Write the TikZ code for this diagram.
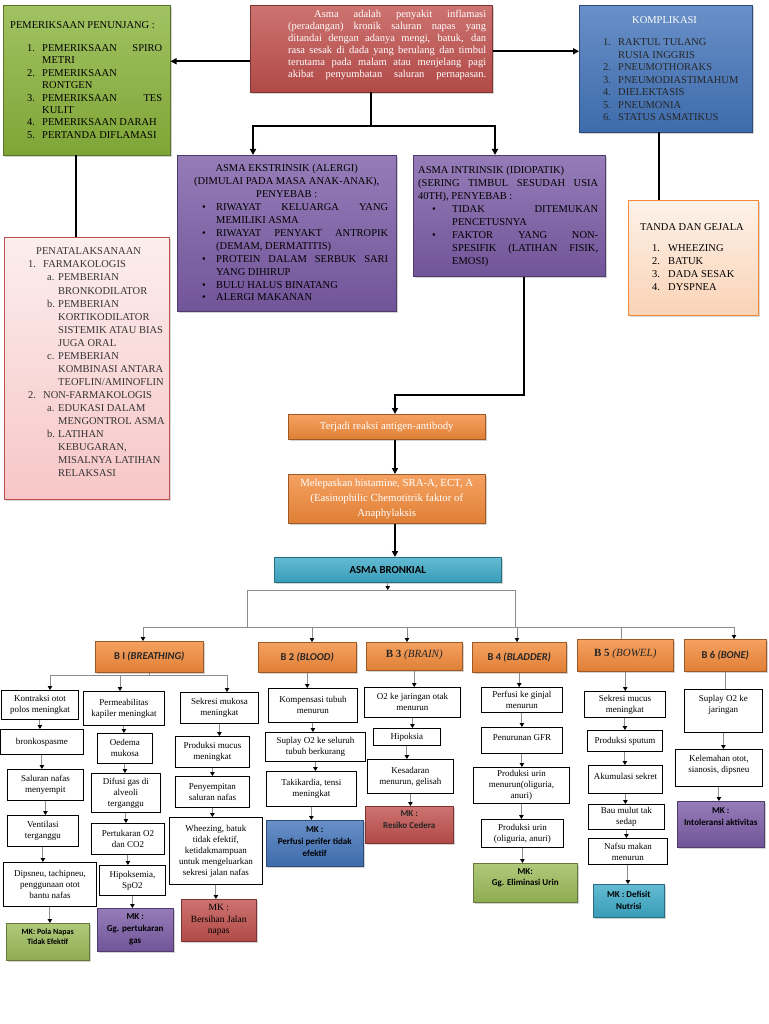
\documentclass[tikz,border=0pt]{standalone}
\usepackage{fontspec}
\setmainfont{Liberation Serif}
\newfontfamily\calib{Carlito}
\usetikzlibrary{arrows.meta,shadows}

\definecolor{cgreen}{HTML}{8AB33B}
\definecolor{cred}{HTML}{C0504D}
\definecolor{cblue}{HTML}{4374BA}
\definecolor{cpurple}{HTML}{7B5CA6}
\definecolor{corange}{HTML}{F38A3A}
\definecolor{cteal}{HTML}{3DAAC8}
\definecolor{cpink}{HTML}{F7C6C6}
\definecolor{cpeach}{HTML}{FAD3B6}
\definecolor{mkgreen}{HTML}{9BBB59}

% zero-width strut that pushes the text of a box upwards
\newcommand\dpad[1]{\rule[-#1]{0pt}{#1}}

\begin{document}
\begin{tikzpicture}[x=1pt, y=-1pt,
    wh/.style 2 args={minimum width=#1pt, minimum height=#2pt},
    tint/.style={anchor=north west, inner sep=1pt, align=center, draw=#1!65!black, line width=0.5pt,
        top color=#1!80!white, bottom color=#1!92!black,
        drop shadow={opacity=0.35, shadow xshift=1.5pt, shadow yshift=-1.5pt}},
    soft/.style 2 args={anchor=north west, draw=#2, line width=0.6pt,
        top color=#1!30!white, bottom color=#1,
        drop shadow={opacity=0.3, shadow xshift=1.5pt, shadow yshift=-1.5pt}},
    wbox/.style={anchor=north west, draw=black, line width=0.8pt, fill=white, inner sep=1pt, align=center,
        font=\fontsize{9}{11}\selectfont},
    txt/.style={anchor=north west, inner sep=0pt},
    mk/.style={font=\calib\bfseries\fontsize{9}{12}\selectfont},
    blab/.style={font=\calib\bfseries\fontsize{10.5}{12}\selectfont, text=black!85},
    slab/.style={font=\bfseries\fontsize{11}{13}\selectfont, text=black!85},
    bigln/.style={draw=black, line width=1.8pt},
    bigarr/.style={bigln, -{Triangle[length=6pt, width=6pt]}},
    bigarrs/.style={bigln, {Triangle[length=6pt, width=6pt]}-{Triangle[length=6pt, width=6pt]}},
    ln/.style={draw=black!45, line width=0.9pt},
    arr/.style={ln, -{Triangle[length=4pt, width=4.5pt, color=black]}},
]
\fill[white] (0,0) rectangle (768,1024);
\useasboundingbox (0,0) rectangle (768,1024);

% ---------- top row ----------
\node[tint=cgreen, wh={167}{150}] (penunjang) at (3,5) {};
\node[txt, font=\fontsize{10.5}{12.4}\selectfont] (penunjang-txt) at (10,19.7) {%
\begin{tabular}{@{}p{17pt}@{}p{15pt}@{}p{120pt}@{}}
\multicolumn{3}{@{}l@{}}{PEMERIKSAAN PENUNJANG :}\\[10.5pt]
 & 1. & PEMERIKSAAN\hfill SPIRO\\
 & & METRI\\
 & 2. & PEMERIKSAAN\\
 & & RONTGEN\\
 & 3. & PEMERIKSAAN\hfill TES\\
 & & KULIT\\
 & 4. & PEMERIKSAAN DARAH\\
 & 5. & PERTANDA DIFLAMASI
\end{tabular}};

\node[tint=cred, wh={242}{87}] (def) at (250,5) {};
\node[txt, text=white, font=\fontsize{10.5}{12}\selectfont] (def-txt) at (288,10) {%
\parbox[t]{198pt}{\parfillskip=0pt\hspace*{26pt}Asma adalah penyakit inflamasi\linebreak
(peradangan) kronik saluran napas yang\linebreak
ditandai dengan adanya mengi, batuk, dan\linebreak
rasa sesak di dada yang berulang dan timbul\linebreak
terutama pada malam atau menjelang pagi\linebreak
akibat penyumbatan saluran pernapasan.}};

\node[tint=cblue, wh={173}{127}] (komplikasi) at (579,5) {};
\node[txt, text=black!85, font=\fontsize{10.5}{12.5}\selectfont] (komplikasi-txt) at (603,14.7) {%
\begin{tabular}{@{}p{15pt}@{}l@{}}
\multicolumn{2}{@{\hspace{29pt}}l@{}}{\textcolor{white}{KOMPLIKASI}}\\[9.5pt]
1. & RAKTUL TULANG\\
 & RUSIA INGGRIS\\
2. & PNEUMOTHORAKS\\
3. & PNEUMODIASTIMAHUM\\
4. & DIELEKTASIS\\
5. & PNEUMONIA\\
6. & STATUS ASMATIKUS
\end{tabular}};

% ---------- allergy types ----------
\node[tint=cpurple, wh={219}{156}] (ekstrinsik) at (177,155) {};
\node[txt, font=\fontsize{10.5}{12.9}\selectfont] (ekstrinsik-txt) at (185,162.7) {%
\begin{tabular}{@{}p{17pt}@{}p{14pt}@{}p{172pt}@{}}
\multicolumn{3}{@{}c@{}}{ASMA EKSTRINSIK (ALERGI)}\\
\multicolumn{3}{@{}c@{}}{(DIMULAI PADA MASA ANAK-ANAK),}\\
\multicolumn{3}{@{}c@{}}{PENYEBAB :}\\
 & \textbullet & RIWAYAT\hfill KELUARGA\hfill YANG\\
 & & MEMILIKI ASMA\\
 & \textbullet & RIWAYAT\hfill PENYAKT\hfill ANTROPIK\\
 & & (DEMAM, DERMATITIS)\\
 & \textbullet & PROTEIN\hfill DALAM\hfill SERBUK\hfill SARI\\
 & & YANG DIHIRUP\\
 & \textbullet & BULU HALUS BINATANG\\
 & \textbullet & ALERGI MAKANAN
\end{tabular}};

\node[tint=cpurple, wh={192}{121}] (intrinsik) at (413,155) {};
\node[txt, font=\fontsize{10.5}{12.9}\selectfont] (intrinsik-txt) at (418,164.7) {%
\begin{tabular}{@{}p{14pt}@{}p{20pt}@{}p{146pt}@{}}
\multicolumn{3}{@{}l@{}}{ASMA INTRINSIK (IDIOPATIK)}\\
\multicolumn{3}{@{}p{180pt}@{}}{(SERING\hfill TIMBUL\hfill SESUDAH\hfill USIA}\\
\multicolumn{3}{@{}l@{}}{40TH), PENYEBAB :}\\
 & \textbullet & TIDAK\hfill DITEMUKAN\\
 & & PENCETUSNYA\\
 & \textbullet & FAKTOR\hfill YANG\hfill NON-\\
 & & SPESIFIK\hfill (LATIHAN\hfill FISIK,\\
 & & EMOSI)
\end{tabular}};

% ---------- side boxes ----------
\node[soft={cpink}{cred}, wh={165}{262}] (penatalaksanaan) at (4,237) {};
\node[txt, text=black!80, font=\fontsize{10.5}{13.06}\selectfont] (penatalaksanaan-txt) at (28,245.5) {%
\begin{tabular}{@{}p{15pt}@{}p{15pt}@{}l@{}}
\multicolumn{3}{@{\hspace{8pt}}l@{}}{PENATALAKSANAAN}\\
1. & \multicolumn{2}{@{}l@{}}{FARMAKOLOGIS}\\
 & \hspace{4pt}a. & PEMBERIAN\\
 & & BRONKODILATOR\\
 & \hspace{4pt}b. & PEMBERIAN\\
 & & KORTIKODILATOR\\
 & & SISTEMIK ATAU BIAS\\
 & & JUGA ORAL\\
 & \hspace{4pt}c. & PEMBERIAN\\
 & & KOMBINASI ANTARA\\
 & & TEOFLIN/AMINOFLIN\\
2. & \multicolumn{2}{@{}l@{}}{NON-FARMAKOLOGIS}\\
 & \hspace{4pt}a. & EDUKASI DALAM\\
 & & MENGONTROL ASMA\\
 & \hspace{4pt}b. & LATIHAN\\
 & & KEBUGARAN,\\
 & & MISALNYA LATIHAN\\
 & & RELAKSASI
\end{tabular}};

\node[soft={cpeach}{corange}, wh={130}{115}] (tanda) at (628,200) {};
\node[txt, font=\fontsize{10.5}{13}\selectfont] (tanda-txt) at (640,220.7) {%
\begin{tabular}{@{}p{12pt}@{}p{16pt}@{}l@{}}
\multicolumn{3}{@{}l@{}}{TANDA DAN GEJALA}\\[8pt]
 & 1. & WHEEZING\\
 & 2. & BATUK\\
 & 3. & DADA SESAK\\
 & 4. & DYSPNEA
\end{tabular}};

% ---------- pathway ----------
\node[tint=corange, wh={197}{25}, text=white, font=\fontsize{10.7}{12}\selectfont] (antigen) at (288,414) {Terjadi reaksi antigen-antibody};
\node[tint=corange, wh={197}{49}, text=white, font=\fontsize{10.8}{15}\selectfont] (histamin) at (288,474)
    {Melepaskan histamine, SRA-A, ECT, A\\(Easinophilic Chemotitrik faktor of\\Anaphylaksis};
\node[tint=cteal, wh={227}{25}, font=\calib\bfseries\fontsize{10.8}{12}\selectfont] (bronkial) at (274,557) {ASMA BRONKIAL};

% ---------- B headers ----------
\node[tint=corange, wh={108}{31}, blab] (b1) at (95,641) {B I \textit{(BREATHING)}};
\node[tint=corange, wh={98}{30}, blab] (b2) at (258,642) {B 2 \textit{(BLOOD)}};
\node[tint=corange, wh={96}{28}, slab] (b3) at (366,642) {B 3 \textnormal{\itshape (BRAIN)}\dpad{5pt}};
\node[tint=corange, wh={94}{30}, blab] (b4) at (472,642) {B 4 \textit{(BLADDER)}};
\node[tint=corange, wh={96}{32}, slab] (b5) at (577,639) {B 5 \textnormal{\itshape (BOWEL)}\dpad{6pt}};
\node[tint=corange, wh={82}{32}, blab] (b6) at (684,639) {B 6 \textit{(BONE)}};

% ---------- B1 breathing ----------
\node[wbox, wh={77}{29}] (k1) at (1,690) {Kontraksi otot\\polos meningkat};
\node[wbox, wh={83}{25}] (k2) at (0,729) {bronkospasme};
\node[wbox, wh={76}{31}] (k3) at (7,769) {Saluran nafas\\menyempit};
\node[wbox, wh={71}{31}] (k4) at (7,815) {Ventilasi\\terganggu};
\node[wbox, wh={93}{44}] (k5) at (3,862) {Dipsneu, tachipneu,\\penggunaan otot\\bantu nafas};
\node[tint=mkgreen, wh={83}{37}, mk, font=\calib\bfseries\fontsize{8}{10}\selectfont] (mk1) at (6,923) {MK: Pola Napas\\Tidak Efektif\dpad{11pt}};

\node[wbox, wh={81}{34}] (p1) at (83,691) {Permeabilitas\\kapiler meningkat};
\node[wbox, wh={55}{30}] (p2) at (97,733) {Oedema\\mukosa};
\node[wbox, wh={69}{39}] (p3) at (91,773) {Difusi gas di\\alveoli\\terganggu};
\node[wbox, wh={73}{31}] (p4) at (91,823) {Pertukaran O2\\dan CO2};
\node[wbox, wh={66}{30}] (p5) at (99,865) {Hipoksemia,\\SpO2};
\node[tint=cpurple, wh={76}{43}, mk] (mk2) at (97,908) {MK :\\Gg. pertukaran\\gas};

\node[wbox, wh={78}{31}] (s1) at (180,692) {Sekresi mukosa\\meningkat};
\node[wbox, wh={74}{31}] (s2) at (175,736) {Produksi mucus\\meningkat};
\node[wbox, wh={74}{31}] (s3) at (175,776) {Penyempitan\\saluran nafas};
\node[wbox, wh={93}{67}] (s4) at (169,817) {Wheezing, batuk\\tidak efektif,\\ketidakmampuan\\untuk mengeluarkan\\sekresi jalan nafas};
\node[tint=cred, wh={75}{42}, font=\fontsize{9.5}{11.5}\selectfont] (mk3) at (181,899) {MK :\\Bersihan Jalan\\napas};

% ---------- B2 blood ----------
\node[wbox, wh={89}{34}] (b2a) at (268,688) {Kompensasi tubuh\\menurun};
\node[wbox, wh={100}{29}] (b2b) at (265,732) {Suplay O2 ke seluruh\\tubuh berkurang};
\node[wbox, wh={90}{35}] (b2c) at (266,771) {Takikardia, tensi\\meningkat};
\node[tint=cblue, wh={97}{46}, mk] (mk4) at (266,820) {MK :\\Perfusi perifer tidak\\efektif\dpad{4pt}};

% ---------- B3 brain ----------
\node[wbox, wh={96}{30}] (b3a) at (364,687) {O2 ke jaringan otak\\menurun};
\node[wbox, wh={67}{17}] (b3b) at (373,728) {Hipoksia};
\node[wbox, wh={86}{34}] (b3c) at (367,759) {Kesadaran\\menurun, gelisah};
\node[tint=cred, wh={88}{37}, mk, text=black!85] (mk5) at (365,806) {MK :\\Resiko Cedera\dpad{11pt}};

% ---------- B4 bladder ----------
\node[wbox, wh={81}{25}] (b4a) at (481,687) {Perfusi ke ginjal\\menurun};
\node[wbox, wh={81}{26}] (b4b) at (481,727) {Penurunan GFR\dpad{5pt}};
\node[wbox, wh={96}{36}] (b4c) at (473,767) {Produksi urin\\menurun(oliguria,\\anuri)};
\node[wbox, wh={82}{28}] (b4d) at (481,819) {Produksi urin\\(oliguria, anuri)};
\node[tint=mkgreen, wh={104}{39}, mk, font=\calib\bfseries\fontsize{9}{10.5}\selectfont] (mk6) at (473,863) {MK:\\Gg. Eliminasi Urin\dpad{11pt}};

% ---------- B5 bowel ----------
\node[wbox, wh={81}{26}] (b5a) at (584,691) {Sekresi mucus\\meningkat};
\node[wbox, wh={75}{21}] (b5b) at (587,730) {Produksi sputum};
\node[wbox, wh={74}{28}] (b5c) at (588,765) {Akumulasi sekret\dpad{7pt}};
\node[wbox, wh={76}{25}] (b5d) at (588,804) {Bau mulut tak\\sedap};
\node[wbox, wh={79}{26}] (b5e) at (588,838) {Nafsu makan\\menurun};
\node[tint=cteal, wh={71}{33}, mk] (mk7) at (593,884) {MK : Defisit\\Nutrisi};

% ---------- B6 bone ----------
\node[wbox, wh={78}{43}] (b6a) at (684,689) {Suplay O2 ke\\jaringan\dpad{14pt}};
\node[wbox, wh={87}{37}] (b6b) at (675,749) {Kelemahan otot,\\sianosis, dipsneu\dpad{9pt}};
\node[tint=cpurple, wh={87}{46}, mk] (mk8) at (677,801) {MK :\\Intoleransi aktivitas\dpad{15pt}};

% ---------- connectors, top ----------
\coordinate (def-l) at ([yshift=-12.5pt]def.west);
\coordinate (def-r) at ([yshift=-2.5pt]def.east);
\draw[bigarr] (def-l) -- (def-l -| penunjang.east);
\draw[bigarr] (def-r) -- (def-r -| komplikasi.west);

\coordinate (split-l) at (253,126);
\coordinate (split-r) at (495,126);
\draw[bigln] (def.south) -- (def.south |- split-l);
\draw[bigarrs] (split-l |- ekstrinsik.north) -- (split-l) -- (split-r) -- (split-r |- intrinsik.north);

\coordinate (pj-b) at ([xshift=-10.5pt]penunjang.south);
\draw[bigln] (pj-b) -- (pj-b |- penatalaksanaan.north);
\coordinate (kp-b) at ([xshift=-6.5pt]komplikasi.south);
\draw[bigln] (kp-b) -- (kp-b |- tanda.north);

\coordinate (in-b) at ([xshift=15pt]intrinsik.south);
\coordinate (mid) at (395,395);
\draw[bigarr] (in-b) |- (mid) -- (mid |- antigen.north);
\draw[bigarr] (mid |- antigen.south) -- (mid |- histamin.north);
\draw[bigarr] (mid |- histamin.south) -- (mid |- bronkial.north);

% ---------- connectors, B level ----------
\coordinate (bar1-l) at (247,590);
\coordinate (bar1-r) at (515,590);
\coordinate (bar2-l) at (143,627);
\coordinate (bar2-r) at (734,627);
\draw[arr] (bronkial.south) -- (bronkial.south |- bar1-l);
\draw[ln] (bar1-l |- bar2-l) -- (bar1-l) -- (bar1-r) -- (bar1-r |- bar2-l);
\draw[ln] (bar2-l) -- (bar2-r);
\foreach \n/\x in {b1/143, b2/312, b3/407, b4/517, b6/734} {
    \coordinate (drop-\n) at (\x,627);
    \draw[arr] (drop-\n) -- (drop-\n |- \n.north);
}
\coordinate (drop-b5) at (621,627);
\draw[ln] (drop-b5) -- (drop-b5 |- b5.north);

% B1 splits in three
\coordinate (bar3-l) at (50,675);
\coordinate (bar3-m) at (120,675);
\coordinate (bar3-r) at (227,675);
\draw[ln] (b1.south) -- (b1.south |- bar3-l);
\draw[ln] (bar3-l) -- (bar3-r);
\draw[arr] (bar3-l) -- (bar3-l |- k1.north);
\draw[arr] (bar3-m) -- (bar3-m |- p1.north);
\draw[arr] (bar3-r) -- (bar3-r |- s1.north);

% chains down each column
\foreach \a/\b in {k1/k2, k2/k3, k3/k4, k4/k5, k5/mk1, p1/p2, p2/p3, p3/p4, p4/p5, p5/mk2,
    s1/s2, s2/s3, s3/s4, s4/mk3, b2/b2a, b2a/b2b, b2b/b2c, b2c/mk4,
    b3/b3a, b3a/b3b, b3b/b3c, b3c/mk5, b4/b4a, b4a/b4b, b4b/b4c, b4c/b4d, b4d/mk6,
    b5/b5a, b5a/b5b, b5b/b5c, b5c/b5d, b5d/b5e, b5e/mk7, b6a/b6b, b6b/mk8}
    \draw[arr] (\a.south) -- (\a.south |- \b.north);
\draw[ln] (b6.south) -- (b6.south |- b6a.north);

\end{tikzpicture}
\end{document}
